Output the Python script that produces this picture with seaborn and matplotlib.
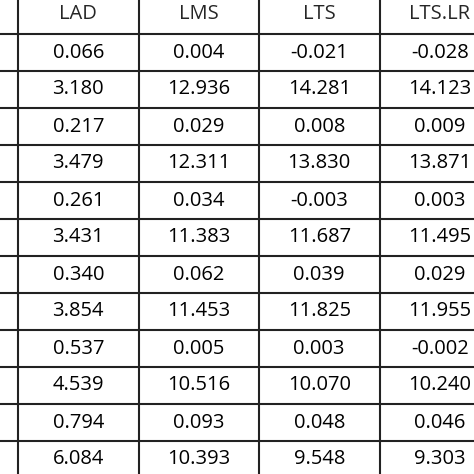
import matplotlib
matplotlib.use("Agg")
import matplotlib.pyplot as plt
import seaborn as sns
import pandas as pd
import numpy as np

columns = ["LAD", "LMS", "LTS", "LTS.LR"]
lad = [0.066, 3.180, 0.217, 3.479, 0.261, 3.431, 0.340, 3.854, 0.537, 4.539, 0.794, 6.084]
lms = [0.004, 12.936, 0.029, 12.311, 0.034, 11.383, 0.062, 11.453, 0.005, 10.516, 0.093, 10.393]
lts = [-0.021, 14.281, 0.008, 13.830, -0.003, 11.687, 0.039, 11.825, 0.003, 10.070, 0.048, 9.548]
ltslr = [-0.028, 14.123, 0.009, 13.871, 0.003, 11.495, 0.029, 11.955, -0.002, 10.240, 0.046, 9.303]

df = pd.DataFrame({"LAD": lad, "LMS": lms, "LTS": lts, "LTS.LR": ltslr})

sns.set_style("white")
plt.rcParams['font.family'] = ['Open Sans', 'DejaVu Sans']
fig = plt.figure(figsize=(4.74, 4.74), dpi=100)
ax = fig.add_axes([0, 0, 1, 1])
sns.heatmap(df, ax=ax, cmap=["white"], cbar=False, annot=True, fmt=".3f",
            annot_kws={"fontsize": 14.5, "color": "black"}, linewidths=0)
for t in ax.texts:
    t.set_clip_on(True)

xl, xr = -18 / 120.5, (474 - 18) / 120.5
yt, yb = (474 - 34) / 37.0, -34 / 37.0
ax.set_xlim(xl, xr)
ax.set_ylim(yt, yb)
for i, c in enumerate(columns):
    ax.text(i + 0.5, yb / 2 - 0.08, c, ha="center", va="center", fontsize=14.5, clip_on=True)
lc = "#222222"
ax.hlines(np.arange(0, 13), xl, xr, color=lc, lw=1.5)
ax.vlines(np.arange(0, 5), yb, yt, color=lc, lw=1.5)
ax.set_xticks([]); ax.set_yticks([])
ax.set_xlabel(""); ax.set_ylabel("")
for s in ax.spines.values():
    s.set_visible(False)
fig.savefig("out.png", dpi=100)
